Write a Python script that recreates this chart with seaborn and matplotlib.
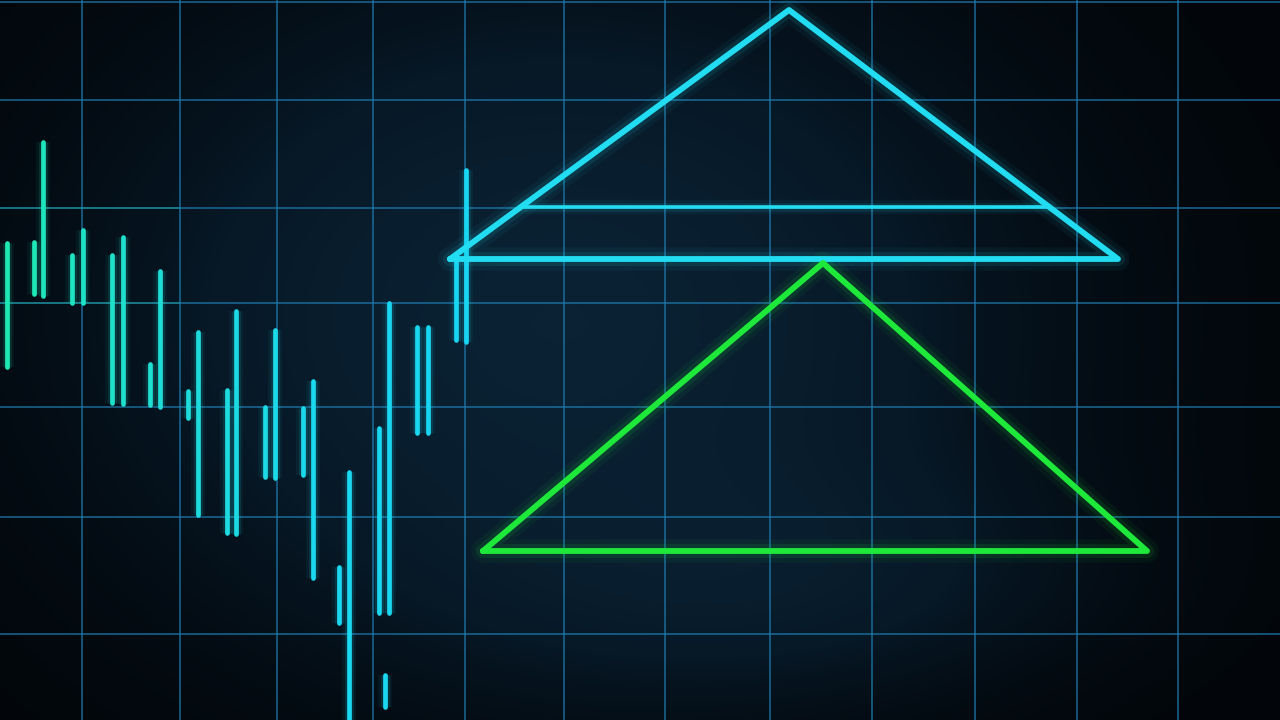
import numpy as np
import matplotlib.pyplot as plt
import seaborn as sns
from matplotlib.colors import LinearSegmentedColormap

# chart values (screen-like units: x to the right, y downward)
wick_x = [7, 34, 43, 72, 83, 112, 123, 150, 160, 188, 198, 227, 236, 265, 275,
          303, 313, 339, 349, 379, 389, 385, 417, 428, 456, 466]
wick_top = [243, 242, 142, 255, 230, 255, 237, 364, 271, 391, 332, 390, 311, 407, 330,
            408, 381, 567, 472, 428, 303, 675, 327, 327, 260, 170]
wick_bottom = [367, 294, 296, 303, 303, 403, 404, 405, 407, 418, 515, 533, 534, 477, 478,
               475, 578, 623, 720, 613, 613, 707, 433, 433, 340, 342]

upper_tri_x = [450, 789, 1118, 450]
upper_tri_y = [259, 10, 259, 259]
upper_level = 207

lower_tri_x = [483, 823, 1147, 483]
lower_tri_y = [551, 263, 551, 551]

grid_x = [82, 180, 277, 373, 465, 564, 665, 770, 872, 975, 1077, 1178]
grid_y = [2, 100, 208, 303, 407, 517, 634]

CYAN = '#22dcf2'
GREEN = '#1ee83a'

sns.set_style('dark', {'axes.facecolor': '#02070b', 'figure.facecolor': '#02070b'})

fig = plt.figure(figsize=(12.8, 7.2), dpi=100)
ax = fig.add_axes([0, 0, 1, 1])

# background glow
gx, gy = np.meshgrid(np.linspace(0, 1280, 256), np.linspace(0, 720, 144))
glow = np.exp(-(((gx - 560) / 430) ** 2 + ((gy - 320) / 320) ** 2))
glow2 = np.exp(-(((gx - 780) / 300) ** 2 + ((gy - 580) / 110) ** 2))
bg = np.clip(0.75 * glow + 0.3 * glow2, 0, 1)
bg_cmap = LinearSegmentedColormap.from_list('bg', ['#02060a', '#071826', '#0a2234'])
ax.imshow(bg, extent=[0, 1280, 720, 0], cmap=bg_cmap, aspect='auto', zorder=0,
          interpolation='bilinear')

# grid
ax.vlines(grid_x, 0, 720, color='#1f7bb0', lw=1.3, alpha=0.7, zorder=1)
ax.hlines(grid_y, 0, 1280, color='#1f7bb0', lw=1.3, alpha=0.7, zorder=1)
ax.hlines([208, 303], 0, 180, color='#1fb89a', lw=1.3, alpha=0.35, zorder=1)


def glow_line(xs, ys, color, lw):
    for w, a in [(lw * 4, 0.05), (lw * 2.4, 0.1)]:
        ax.plot(xs, ys, color=color, lw=w, alpha=a, solid_capstyle='round',
                solid_joinstyle='round', zorder=3)
    sns.lineplot(x=xs, y=ys, sort=False, estimator=None, color=color, lw=lw,
                 ax=ax, zorder=4)


# wicks
wick_colors = sns.blend_palette(['#1ee8b4', '#1fdcd8', '#1ad8f0', '#18d6f2'], len(wick_x))
rank = np.argsort(np.argsort(wick_x))
for i in range(len(wick_x)):
    c = wick_colors[rank[i]]
    for w, a in [(10, 0.06), (6.5, 0.12)]:
        ax.vlines(wick_x[i], wick_top[i], wick_bottom[i], color=c, lw=w, alpha=a, zorder=2)
    ax.vlines(wick_x[i], wick_top[i], wick_bottom[i], color=c, lw=3.4,
              capstyle='round', zorder=3)

# inner level inside the upper triangle
left_x = np.interp(upper_level, [upper_tri_y[1], upper_tri_y[0]], [upper_tri_x[1], upper_tri_x[0]])
right_x = np.interp(upper_level, [upper_tri_y[1], upper_tri_y[2]], [upper_tri_x[1], upper_tri_x[2]])
glow_line([left_x, right_x], [upper_level, upper_level], CYAN, 2.6)

glow_line(upper_tri_x, upper_tri_y, CYAN, 4.2)
glow_line(lower_tri_x, lower_tri_y, GREEN, 4.2)

ax.set_xlim(0, 1280)
ax.set_ylim(720, 0)
ax.set_axis_off()

plt.savefig('out.png', dpi=100, facecolor=fig.get_facecolor())
plt.close()
